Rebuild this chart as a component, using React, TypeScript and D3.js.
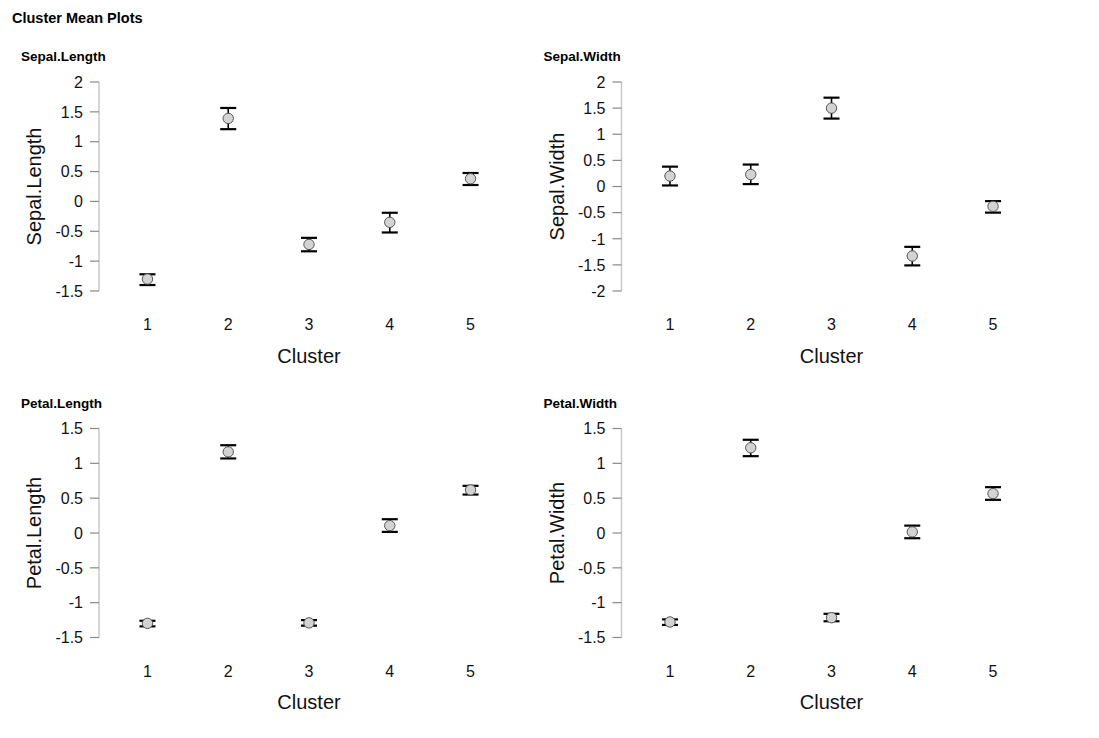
import * as d3 from "d3";

// cluster labels shared by every panel
const clusters = ["1", "2", "3", "4", "5"];

// standardized means and error-bar bounds
const sepalLengthMean = [-1.3, 1.39, -0.72, -0.35, 0.38];
const sepalLengthLow = [-1.4, 1.21, -0.835, -0.52, 0.275];
const sepalLengthHigh = [-1.22, 1.565, -0.61, -0.19, 0.476];

const sepalWidthMean = [0.2, 0.23, 1.5, -1.33, -0.38];
const sepalWidthLow = [0.02, 0.046, 1.3, -1.51, -0.5];
const sepalWidthHigh = [0.38, 0.42, 1.7, -1.155, -0.28];

const petalLengthMean = [-1.297, 1.165, -1.29, 0.106, 0.619];
const petalLengthLow = [-1.34, 1.07, -1.33, 0.016, 0.552];
const petalLengthHigh = [-1.26, 1.26, -1.25, 0.198, 0.677];

const petalWidthMean = [-1.277, 1.223, -1.216, 0.016, 0.566];
const petalWidthLow = [-1.32, 1.103, -1.267, -0.075, 0.476];
const petalWidthHigh = [-1.24, 1.338, -1.16, 0.106, 0.658];

// y tick labels per panel
const sepalLengthTicks = [-1.5, -1, -0.5, 0, 0.5, 1, 1.5, 2];
const sepalWidthTicks = [-2, -1.5, -1, -0.5, 0, 0.5, 1, 1.5, 2];
const petalLengthTicks = [-1.5, -1, -0.5, 0, 0.5, 1, 1.5];
const petalWidthTicks = [-1.5, -1, -0.5, 0, 0.5, 1, 1.5];

const panels = [
  { name: "Sepal.Length", mean: sepalLengthMean, low: sepalLengthLow, high: sepalLengthHigh, ticks: sepalLengthTicks, col: 0, row: 0 },
  { name: "Sepal.Width", mean: sepalWidthMean, low: sepalWidthLow, high: sepalWidthHigh, ticks: sepalWidthTicks, col: 1, row: 0 },
  { name: "Petal.Length", mean: petalLengthMean, low: petalLengthLow, high: petalLengthHigh, ticks: petalLengthTicks, col: 0, row: 1 },
  { name: "Petal.Width", mean: petalWidthMean, low: petalWidthLow, high: petalWidthHigh, ticks: petalWidthTicks, col: 1, row: 1 },
];

const FONT = "'Liberation Sans', Arial, Helvetica, sans-serif";
const colStep = 522.5;
const rowStep = 346.5;
const axisX = 99;
const plotTop = 82;
const plotBottom = 291;

function Panel({ p }: { p: (typeof panels)[number] }) {
  const ox = p.col * colStep;
  const oy = p.row * rowStep;

  const x = d3
    .scalePoint<string>()
    .domain(clusters)
    .range([axisX, axisX + 420])
    .padding(0.6);

  const y = d3
    .scaleLinear()
    .domain(d3.extent(p.ticks) as [number, number])
    .range([plotBottom, plotTop]);

  const midX = (x(clusters[0])! + x(clusters[clusters.length - 1])!) / 2;
  const midY = (plotTop + plotBottom) / 2;

  return (
    <g transform={`translate(${ox},${oy})`} fontFamily={FONT}>
      <text x={21} y={61} fontSize={13.5} fontWeight="bold" fill="#000">
        {p.name}
      </text>

      {/* y axis */}
      <line x1={axisX} x2={axisX} y1={y.range()[1]} y2={y.range()[0]} stroke="#c8c8c8" strokeWidth={1.5} />
      {p.ticks.map((t) => (
        <g key={t} transform={`translate(0,${y(t)})`}>
          <line x1={axisX - 9} x2={axisX} stroke="#8a8a8a" strokeWidth={1.2} />
          <text x={axisX - 16} dy="0.36em" textAnchor="end" fontSize={16} fill="#111">
            {String(t)}
          </text>
        </g>
      ))}
      <text
        transform={`translate(41,${midY}) rotate(-90)`}
        textAnchor="middle"
        fontSize={20}
        fill="#111"
      >
        {p.name}
      </text>

      {/* x labels */}
      {clusters.map((c) => (
        <text key={c} x={x(c)} y={330} textAnchor="middle" fontSize={16} fill="#111">
          {c}
        </text>
      ))}
      <text x={midX} y={362.5} textAnchor="middle" fontSize={20} fill="#111">
        Cluster
      </text>

      {/* error bars and means */}
      {clusters.map((c, i) => {
        const cx = x(c)!;
        return (
          <g key={c}>
            <line x1={cx} x2={cx} y1={y(p.low[i])} y2={y(p.high[i])} stroke="#000" strokeWidth={1.6} />
            <line x1={cx - 8} x2={cx + 8} y1={y(p.high[i])} y2={y(p.high[i])} stroke="#000" strokeWidth={2.2} />
            <line x1={cx - 8} x2={cx + 8} y1={y(p.low[i])} y2={y(p.low[i])} stroke="#000" strokeWidth={2.2} />
            <circle cx={cx} cy={y(p.mean[i])} r={5.2} fill="#d3d3d3" stroke="#555" strokeWidth={1} />
          </g>
        );
      })}
    </g>
  );
}

export default function App() {
  return (
    <svg
      width={1099}
      height={738}
      style={{ position: "absolute", left: 0, top: 0, display: "block", background: "#fff" }}
    >
      <text x={12} y={23} fontFamily={FONT} fontSize={14.5} fontWeight="bold" fill="#000">
        Cluster Mean Plots
      </text>
      {panels.map((p) => (
        <Panel key={p.name} p={p} />
      ))}
    </svg>
  );
}
